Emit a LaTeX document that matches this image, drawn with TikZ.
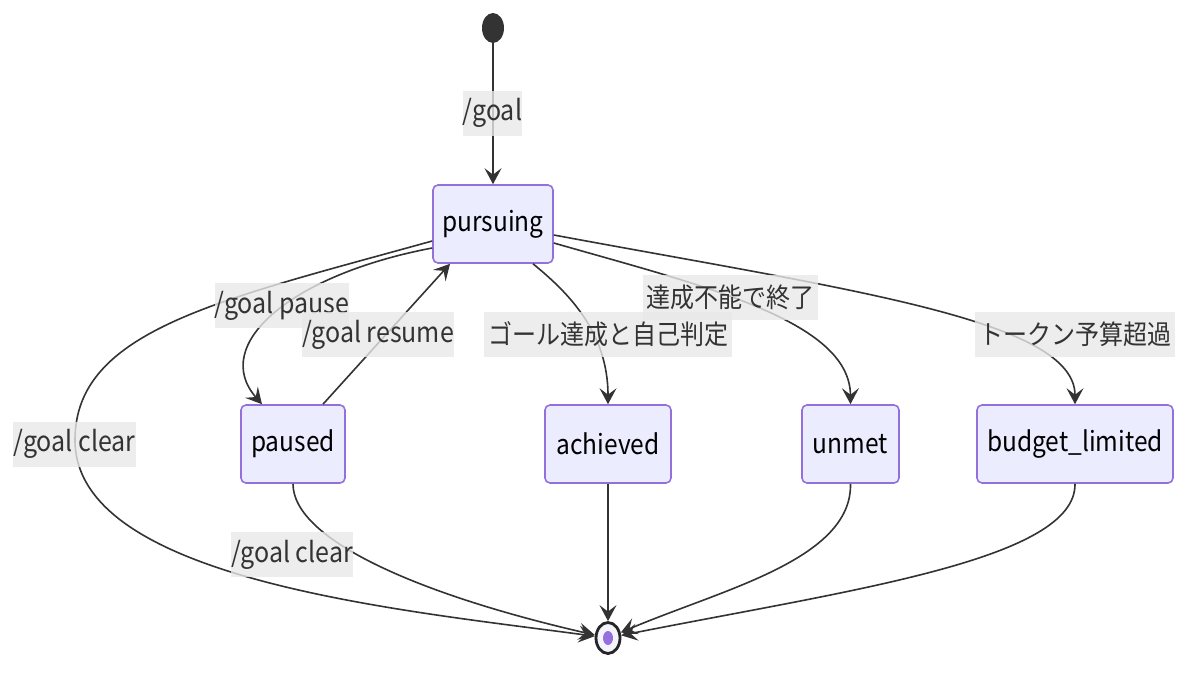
\documentclass[tikz,border=0pt]{standalone}
\usepackage{fontspec}
\setmainfont{Noto Sans CJK JP}
\usetikzlibrary{arrows.meta,shapes.geometric,calc}
\definecolor{edgec}{HTML}{333333}
\definecolor{nodefill}{HTML}{ECECFF}
\definecolor{nodeline}{HTML}{9370DB}
\definecolor{lblbg}{HTML}{E8E8E8}
\newcommand{\vs}[1]{\scalebox{1}[1.12]{#1}}
\tikzset{
  statebox/.style={draw=nodeline, fill=nodefill, line width=1.6pt, rounded corners=5pt,
    minimum height=78pt, inner sep=0pt, text=black, font=\fontsize{24.5}{28}\selectfont},
  lbl/.style={fill=lblbg, fill opacity=0.8, text opacity=1, text=edgec, inner sep=0pt,
    minimum height=45pt, font=\fontsize{24}{28}\selectfont},
  lbllat/.style={lbl, font=\fontsize{25}{28}\selectfont},
  tr/.style={draw=edgec, line width=1.6pt, -{Stealth[length=16pt,width=17pt,inset=6.5pt]}},
  ln/.style={draw=edgec, line width=1.6pt}
}
\begin{document}
\begin{tikzpicture}[x=1pt,y=-1pt]
\useasboundingbox (0,0) rectangle (1200,675);
% states
\node[ellipse, fill=edgec, minimum width=22pt, minimum height=30pt, inner sep=0pt] (start) at (493,28) {};
\node[statebox, minimum width=120pt] (pursuing) at (493,224) {\vs{pursuing}};
\node[statebox, minimum width=104pt] (paused) at (293,444) {\vs{paused}};
\node[statebox, minimum width=126pt] (achieved) at (608,444) {\vs{achieved}};
\node[statebox, minimum width=97pt] (unmet) at (850.5,444) {\vs{unmet}};
\node[statebox, minimum width=196pt] (budget) at (1075,444) {\vs{budget\_limited}};
\node[ellipse, draw=black!85, line width=2.8pt, fill=nodefill!60, minimum width=24pt, minimum height=31pt, inner sep=0pt] (end) at (608,638) {};
\node[ellipse, fill=nodeline, minimum width=10pt, minimum height=14pt, inner sep=0pt] (enddot) at (608,638) {};
% coordinates on borders
\coordinate (pW1) at ($(pursuing.west)+(0,17)$);
\coordinate (pW2) at ($(pursuing.west)+(0,24)$);
\coordinate (pS1) at ($(pursuing.south)+(-43,0)$);
\coordinate (pS2) at ($(pursuing.south)+(40,0)$);
\coordinate (pE1) at ($(pursuing.east)+(0,19)$);
\coordinate (pE2) at ($(pursuing.east)+(0,11)$);
\coordinate (paN1) at ($(paused.north)+(-31,0)$);
\coordinate (paN2) at ($(paused.north)+(30,0)$);
\coordinate (leftway) at (75,440);
% transitions
\draw[tr] (start) -- (pursuing);
\draw[tr] (pW2) .. controls (290,275) and (210,345) .. (paN1);
\draw[tr] (paN2) -- (pS1);
\draw[tr] (pS2) .. controls (565,290) and (608,330) .. (achieved.north);
\draw[tr] (pE1) .. controls (700,285) and (850,320) .. (unmet.north);
\draw[tr] (pE2) .. controls (850,290) and (1075,320) .. (budget.north);
\draw[ln] (pW1) .. controls (220,300) and (75,330) .. (leftway);
\draw[tr] (leftway) .. controls (75,580) and (400,610) .. (end);
\draw[tr] (paused.south) .. controls (293,540) and (420,595) .. (end);
\draw[tr] (achieved.south) -- (end);
\draw[tr] (unmet.south) .. controls (852,560) and (720,590) .. (end);
\draw[tr] (budget.south) .. controls (1076,560) and (850,590) .. (end);
% labels
\node[lbllat, minimum width=59pt] (l1) at (492.5,113) {\vs{/goal}};
\node[lbllat, minimum width=131pt] (l2) at (282,305.5) {\vs{/goal pause}};
\node[lbllat, minimum width=148pt] (l3) at (378,334.5) {\vs{/goal resume}};
\node[lbl, minimum width=248pt] (l4) at (608,334.5) {\vs{ゴール達成と自己判定}};
\node[lbl, minimum width=175pt] (l5) at (730.5,297) {\vs{達成不能で終了}};
\node[lbl, minimum width=200pt] (l6) at (1075,334.5) {\vs{トークン予算超過}};
\node[lbllat, minimum width=123pt] (l7) at (74.5,444) {\vs{/goal clear}};
\node[lbllat, minimum width=122pt] (l8) at (292,554.5) {\vs{/goal clear}};
\end{tikzpicture}
\end{document}
